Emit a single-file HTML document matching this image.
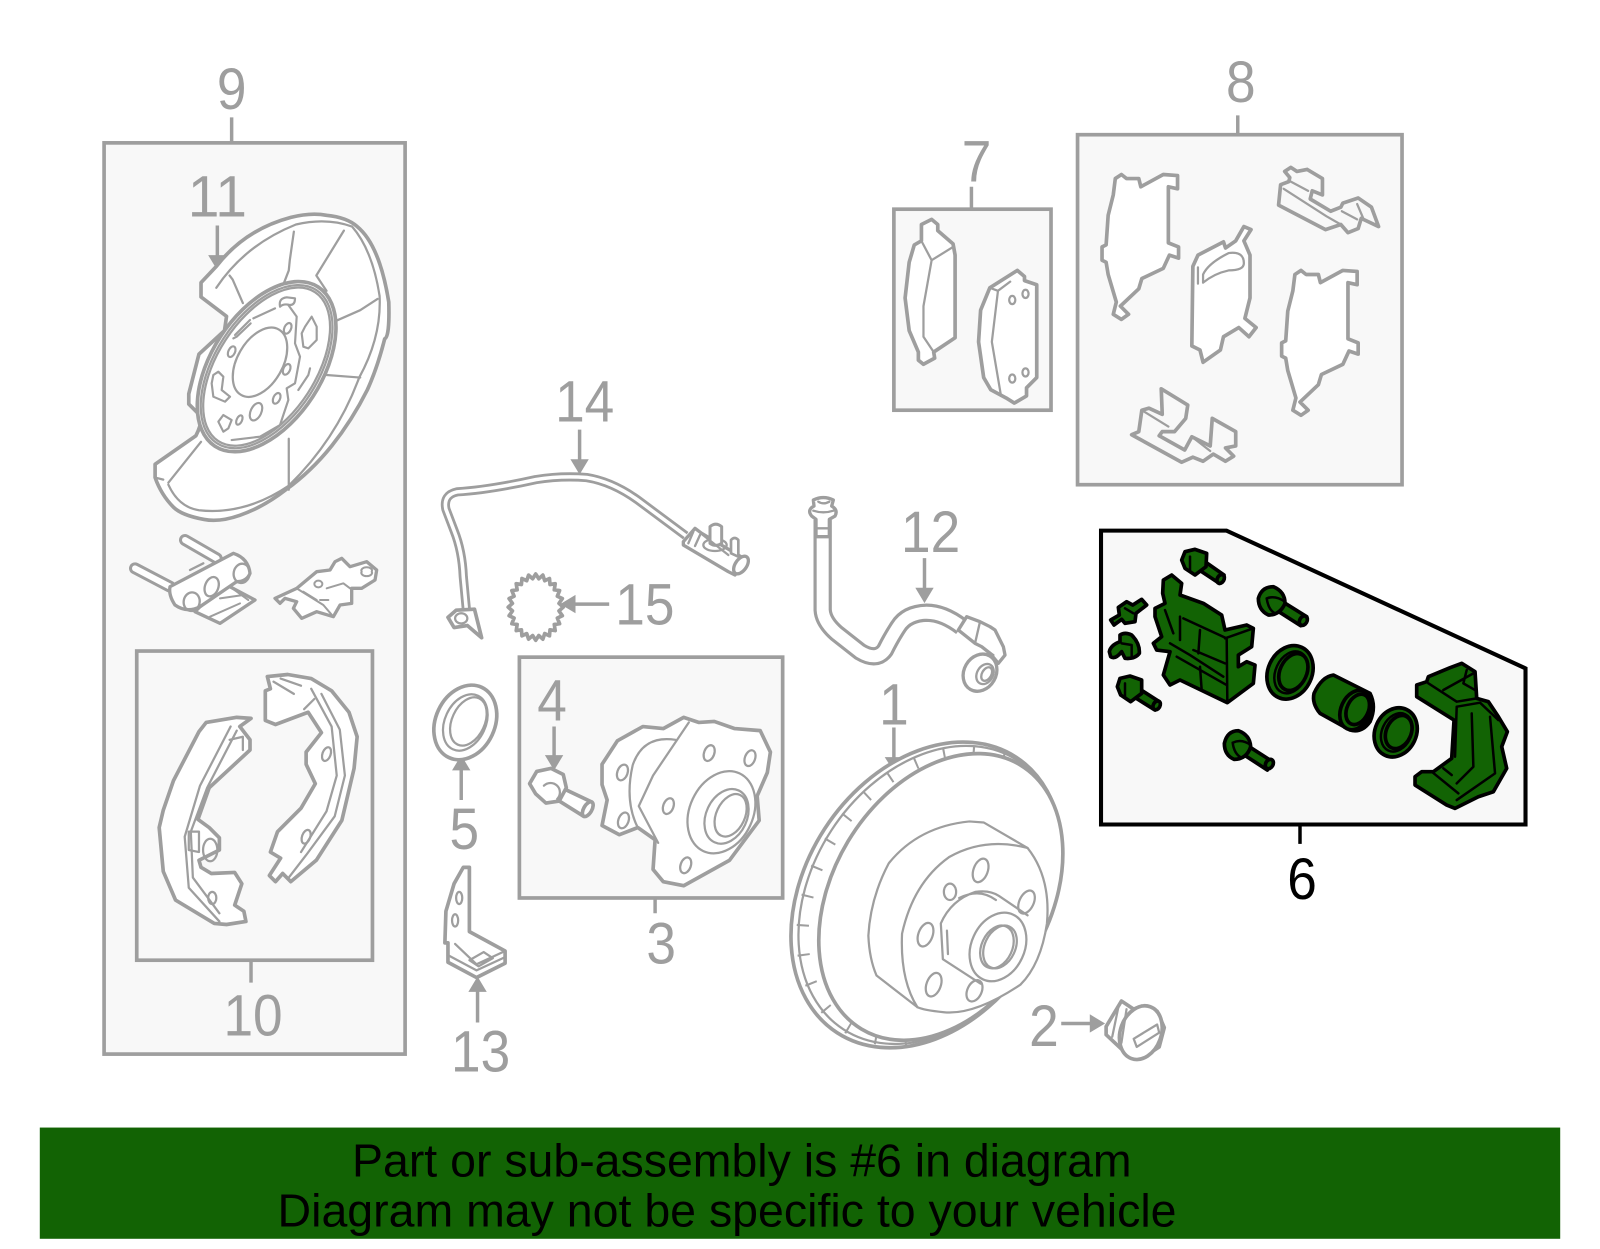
<!DOCTYPE html>
<html><head><meta charset="utf-8"><style>
html,body{margin:0;padding:0;background:#fff}svg{display:block}
text{font-family:"Liberation Sans",sans-serif}
.n{font-size:57px;fill:#9e9e9e;text-anchor:middle}
.b{fill:#f8f8f8;stroke:#9e9e9e;stroke-width:3.6}
.l{fill:none;stroke:#9e9e9e;stroke-width:3.4}
.a{fill:#9e9e9e;stroke:none}
.p{fill:#fff;stroke:#9e9e9e;stroke-width:3.6;stroke-linejoin:round;stroke-linecap:round}
.t{fill:none;stroke:#9e9e9e;stroke-width:2.2;stroke-linejoin:round;stroke-linecap:round}
.z{stroke-width:6.5}
.y{stroke-width:10}
.k *{stroke:#000;stroke-width:11;stroke-linejoin:round;stroke-linecap:round}
.g{fill:#126304}
.f{fill:none;stroke-width:7.5 !important}
</style></head><body>
<svg width="1600" height="1249" viewBox="0 0 1568 1224" xmlns="http://www.w3.org/2000/svg">
<rect width="1568" height="1224" fill="#fff"/>

<!-- boxes -->
<rect class="b" x="102" y="140" width="295" height="893"/>
<rect class="b" x="134" y="638" width="231" height="303"/>
<rect class="b" x="509" y="644" width="258" height="236"/>
<rect class="b" x="876" y="205" width="154" height="197"/>
<rect class="b" x="1056" y="132" width="318" height="343"/>
<polygon points="1079,520 1202,520 1495,655 1495,808 1079,808" fill="#f8f8f8" stroke="#000" stroke-width="4"/>

<!-- leaders -->
<path class="l" d="M227,115V140M246,941V963M642,880V895M952,183V205M1213,113V132"/>
<path d="M1274,808V827" fill="none" stroke="#000" stroke-width="3.4"/>

<!-- arrows -->
<path class="l" d="M213,221V252M568,421V452M906,547V577M543,712V742M452,752V784M468,968V1002M876,713V745M556,592H597M1040,1003H1070"/>
<path class="a" d="M204,250h18l-9,15zM559,450h18l-9,15zM897,576h18l-9,15zM534,740h18l-9,15zM443,755h18l-9,-15zM459,972h18l-9,-15zM867,742h18l-9,14zM564,583v18l-15,-9zM1068,994v18l15,-9z"/>

<!-- shield part 11 -->
<path class="p" d="M152,468L152,455L192,427Q198,415 197,408L185,396L185,386L195,347L220,324L222,310L197,291L197,277L212,261Q240,225 285,213Q305,208 320,211Q340,213 350,222Q372,240 381,296Q382,330 377,332Q370,360 360,382Q345,412 325,437Q305,462 280,480Q258,497 235,505Q215,512 200,509Q178,505 170,497Q158,485 152,468Z"/>
<path class="t" d="M212,282Q240,240 290,220Q320,213 345,222Q365,245 372,290Q374,330 352,370Q330,430 283,476Q240,505 195,500Q175,497 165,475M152,468L160,470"/>
<path class="t" d="M288,227L284,255L283,265L278,278M337,226L310,270L320,285M370,293L353,304L328,315M353,370L320,367.5M283,480V430M165,473L197,433M225,270L228,274L238,297"/>
<ellipse class="p" cx="261.3" cy="359.3" rx="54" ry="93" transform="rotate(33 261.3 359.3)" stroke-width="2.6"/>
<ellipse class="t" cx="261.3" cy="359.3" rx="50.5" ry="89.5" transform="rotate(33 261.3 359.3)"/>
<ellipse class="t" cx="261.3" cy="359.3" rx="48" ry="87" transform="rotate(33 261.3 359.3)"/>
<ellipse class="t" cx="254.8" cy="355" rx="22.2" ry="37" transform="rotate(30 254.8 355)" stroke-width="2.4"/>
<g transform="translate(176.4 254.8) scale(.3267)">
<path class="t z" d="M300,140Q295,115 320,112L345,115Q345,135 330,135Q310,130 300,140Z"/>
<path class="t z" d="M220,175L285,145M325,135L350,170L345,250L360,290L345,370L320,385L325,420L300,495L240,530L155,540"/>
<path class="t z" d="M375,200L395,170L410,200L410,240L385,265L370,260L365,220Z"/>
<path class="t z" d="M165,225L210,180M160,235L170,230L212,190"/>
<path class="t z" d="M100,345L115,335L130,350L125,390L150,410L135,425L100,410L95,370Z"/>
<path class="t z" d="M115,485L130,465L155,480L145,505L130,515Z"/>
<path class="t z" d="M355,390L385,345L390,325"/>
<ellipse class="t z" cx="155" cy="275" rx="10" ry="17" transform="rotate(25 155 275)"/>
<ellipse class="t z" cx="323" cy="205" rx="10" ry="17" transform="rotate(25 323 205)"/>
<ellipse class="t z" cx="320" cy="328" rx="10" ry="17" transform="rotate(25 320 328)"/>
<ellipse class="t z" cx="290" cy="415" rx="10" ry="17" transform="rotate(25 290 415)"/>
<ellipse class="t z" cx="228" cy="455" rx="16" ry="28" transform="rotate(25 228 455)"/>
<ellipse class="t z" cx="178" cy="480" rx="8" ry="15" transform="rotate(25 178 480)"/>
</g>

<!-- rear brackets -->
<g transform="translate(117.6 509.6) scale(.3267)">
<path d="M195,60L290,115" fill="none" stroke="#9e9e9e" stroke-width="36" stroke-linecap="round"/>
<path d="M195,60L290,115" fill="none" stroke="#fff" stroke-width="18" stroke-linecap="round"/>
<path d="M45,145L150,200" fill="none" stroke="#9e9e9e" stroke-width="36" stroke-linecap="round"/>
<path d="M45,145L150,200" fill="none" stroke="#fff" stroke-width="18" stroke-linecap="round"/>
<path class="p y" style="stroke-width:10" d="M240,260L320,195L405,240L300,310L225,275Z"/>
<path class="t y" style="stroke-width:6" d="M300,235L370,225M330,200L385,240M270,290L360,250"/>
<path class="p" style="stroke-width:10" d="M150,200L340,100Q385,115 390,160Q380,185 350,185L240,260Q200,280 165,255Q145,225 150,200Z"/>
<ellipse class="t" style="stroke-width:7" cx="365" cy="160" rx="24" ry="29" transform="rotate(10 365 160)"/>
<ellipse class="t" style="stroke-width:7" cx="275" cy="200" rx="20" ry="30" transform="rotate(20 275 200)"/>
<ellipse class="t" style="stroke-width:7" cx="215" cy="245" rx="24" ry="28" transform="rotate(10 215 245)"/>
<path class="t" style="stroke-width:7" d="M210,150L250,130"/>
<path class="p" style="stroke-width:10" d="M465,235L530,205L590,155L630,150L645,125L665,115L690,140L740,125L770,150L765,180L725,205L695,205L695,250L660,255L640,290L590,275L545,295L520,265L530,245L495,235L480,250Z"/>
<path class="t" style="stroke-width:6" d="M530,205L610,255L640,290M595,192m-12,0a12,10 0 1 0 24,0a12,10 0 1 0 -24,0M620,205L670,190L690,205M600,240L625,240M550,215L590,240M725,155a16,10 0 1 0 30,0a16,10 0 1 0 -30,0"/>
</g>

<!-- shoes -->
<path class="p" d="M246,704L232,703L202,708L195,717L170,765L160,794L156,811L160,854L172,882L210,905L222,906L241,903L239,893L230,887L237,866L230,855L207,856L197,850L195,843L215,833L215,821L205,811L194,803L205,772L245,735L245,725L235,712Z"/>
<path class="t" d="M226,712L196,770L181,820L185,870L215,903M232,716L203,772L187,815L189,860L215,895"/>
<ellipse class="t" cx="206" cy="833" rx="7" ry="11"/><ellipse class="t" cx="208" cy="880" rx="4" ry="6"/>
<path class="t" d="M185,815L195,815L195,835L185,833ZM225,725L238,722V735"/>
<path class="p" d="M262,663L282,661L305,665L325,677L342,698L350,722L347,753L335,804L310,843L285,864L277,856L270,864L264,858L275,841L265,835L272,815L295,792L309,768L300,749L300,737L315,718L302,698L270,710L260,706L260,677L265,675Z"/>
<path class="t" d="M315,680L333,715L338,760L328,800L300,838L283,860M305,675L325,712L330,760L320,795L295,835"/>
<path class="t" d="M275,665L295,672M268,668L288,680M298,695L308,685"/>
<ellipse class="t" cx="320" cy="739" rx="4" ry="7" transform="rotate(20 320 739)"/><ellipse class="t" cx="300" cy="820" rx="4" ry="7" transform="rotate(20 300 820)"/>

<!-- sensor 14 -->
<path d="M457,597L454,565Q453,540 445,520L437,499Q434,485 448,482Q480,480 525,470Q550,466 575,468Q600,472 625,490L672,525" fill="none" stroke="#9e9e9e" stroke-width="9" stroke-linejoin="round"/>
<path d="M457,597L454,565Q453,540 445,520L437,499Q434,485 448,482Q480,480 525,470Q550,466 575,468Q600,472 625,490L672,525" fill="none" stroke="#fff" stroke-width="3.5" stroke-linejoin="round"/>
<g transform="translate(646.8 499.8) scale(.3267)">
<path class="p" style="stroke-width:10" d="M70,95L105,55L125,70L260,150L225,195L205,185L70,105Z"/>
<ellipse class="p" style="stroke-width:10" cx="243" cy="165" rx="17" ry="30" transform="rotate(35 243 165)"/>
<ellipse class="t" style="stroke-width:7" cx="165" cy="105" rx="35" ry="18"/>
<path class="p" style="stroke-width:9" d="M150,50Q167,35 185,50V100Q167,112 150,100Z"/>
<path class="p" style="stroke-width:8" d="M213,130V90Q224,78 235,90V140Z"/>
<path class="t" style="stroke-width:7" d="M100,65L85,100M120,75L105,108M125,72L205,135"/>
</g>
<path class="p" d="M447,598L465,597L472,625L458,613L445,615L439,605Z"/><ellipse class="t" cx="452" cy="606" rx="6" ry="5"/>

<!-- gear 15 -->
<polygon class="p" stroke-width="3" points="525,562.5 528,567.2 532,563.6 533.8,569.1 538.5,566.9 539,572.8 544.1,572 543.2,578 548.4,578.75 546.2,584.3 551.1,586.6 547.8,591.3 552,595 547.8,598.7 551.1,603.4 546.2,605.7 548.4,611.25 543.2,612 544.1,618 539,617.2 538.5,623.1 533.8,620.9 532,626.4 528,622.8 525,627.5 522,622.8 518,626.4 516.2,620.9 511.5,623.1 511,617.2 505.9,618 506.8,612 501.6,611.25 503.8,605.7 498.9,603.4 502.2,598.7 498,595 502.2,591.3 498.9,586.6 503.8,584.3 501.6,578.75 506.8,578 505.9,572 511,572.8 511.5,566.9 516.2,569.1 518,563.6 522,567.2"/>

<!-- hose 12 -->
<g transform="translate(774.2 480.2) scale(.3267)">
<path d="M98,90V360Q100,395 140,430L210,485Q260,515 285,480Q305,440 325,410Q350,370 410,368Q460,368 515,410" fill="none" stroke="#9e9e9e" stroke-width="55"/>
<path d="M98,90V360Q100,395 140,430L210,485Q260,515 285,480Q305,440 325,410Q350,370 410,368Q460,368 515,410" fill="none" stroke="#fff" stroke-width="36"/>
<path class="p" style="stroke-width:10" d="M70,30Q100,15 130,30L125,48Q145,60 135,78L118,88V140H78V88L65,78Q50,60 72,48Z"/>
<path class="t" style="stroke-width:7" d="M78,115H118M85,35Q100,45 118,35M70,62Q100,72 130,62"/>
<ellipse class="p" style="stroke-width:10" cx="570" cy="548" rx="48" ry="58" transform="rotate(30 570 548)"/>
<ellipse class="t" style="stroke-width:7" cx="585" cy="552" rx="24" ry="32" transform="rotate(30 585 552)"/>
<ellipse class="t" style="stroke-width:7" cx="590" cy="552" rx="14" ry="22" transform="rotate(30 590 552)"/>
<path class="p" style="stroke-width:10" d="M505,420L530,380L570,395L600,410L615,420L640,470L645,495L625,520L600,490L575,470L555,460Z"/>
<path class="t" style="stroke-width:7" d="M570,395L555,460M575,470L610,495"/>
</g>

<!-- rotor 1 -->
<ellipse class="p" cx="908" cy="877" rx="119" ry="161" transform="rotate(33 908 877)"/>
<ellipse cx="911" cy="878" rx="111" ry="152" transform="rotate(33 911 878)" fill="none" stroke="#9e9e9e" stroke-width="12" stroke-dasharray="2 27"/>
<ellipse class="t" cx="912" cy="877" rx="116" ry="157" transform="rotate(33 912 877)" stroke-width="1.6"/>
<ellipse class="p" cx="922" cy="879" rx="106" ry="151" transform="rotate(31 922 879)" stroke-width="2.4"/>
<path class="p" stroke-width="2.4" d="M964,806L1007,831Q1030,860 1026,905Q1020,945 1000,965Q955,995 925,992Q905,990 899,987L859,956Q852,940 851,917Q853,880 871,846Q900,810 950,805Z" style="stroke-width:2.2"/>
<path class="t" d="M1007,831Q965,820 930,840Q895,865 884,915Q882,960 899,987"/>
<ellipse class="t" cx="961" cy="853" rx="7" ry="12" transform="rotate(20 961 853)"/>
<ellipse class="t" cx="931" cy="874" rx="6" ry="8"/>
<ellipse class="t" cx="1006" cy="884" rx="7" ry="12" transform="rotate(25 1006 884)"/>
<ellipse class="t" cx="907" cy="916" rx="7" ry="12" transform="rotate(20 907 916)"/>
<ellipse class="t" cx="915" cy="965" rx="7" ry="12" transform="rotate(20 915 965)"/>
<ellipse class="t" cx="955" cy="971" rx="7" ry="11" transform="rotate(25 955 971)"/>
<path class="t" d="M922,905Q932,882 956,874Q970,872 979,878L1007,897M922,905L924,940L961,964M928,912L929,935M940,880Q960,870 976,882"/>
<ellipse class="t" cx="978" cy="928" rx="26" ry="35" transform="rotate(25 978 928)"/>
<ellipse class="t" cx="977" cy="928" rx="15" ry="22" transform="rotate(25 977 928)"/>
<ellipse class="t" cx="980" cy="928" rx="15" ry="22" transform="rotate(25 980 928)"/>

<!-- plug 2 -->
<path class="p" d="M1084,1006L1099,981L1111,989L1119,986L1134,991L1141,1007L1136,1026L1119,1037L1099,1028L1084,1014Z"/>
<ellipse class="p" cx="1118" cy="1012" rx="20" ry="27" transform="rotate(20 1118 1012)" stroke-width="3"/>
<path class="t" d="M1111,1018L1134,1004L1136,1012L1114,1026ZM1096,987L1090,1016M1104,989L1099,1022"/>

<!-- seal 5 -->
<ellipse class="p" cx="456" cy="708" rx="29" ry="38" transform="rotate(25 456 708)"/>
<ellipse class="t" cx="456" cy="708" rx="20" ry="29" transform="rotate(25 456 708)" stroke-width="2.4"/>
<ellipse class="t" cx="459" cy="707" rx="16" ry="25" transform="rotate(25 459 707)" stroke-width="2.4"/>

<!-- bracket 13 -->
<path class="p" d="M454,850L460,850L460,913L495,932L495,944L467,958L439,943L439,924L436,924L437,893L445,866Z"/>
<path class="t" d="M446,925L467,945L495,932M439,936L467,951L495,938M460,941L474,933L483,939L469,947Z"/>
<ellipse class="t" cx="450" cy="880" rx="3" ry="6"/><ellipse class="t" cx="446" cy="902" rx="3" ry="6"/>

<!-- hub 3 -->
<path class="p" d="M590,749L605,726L630,712L650,714L670,703L685,708L700,707L720,714L745,716L755,737L752,757L742,780L744,804L715,843L670,868L650,864L640,852L642,823L625,811L607,818L590,809L595,784L590,769Z"/>
<path class="t" d="M675,708L640,760L626,790L645,826M662,725Q630,720 620,750Q612,785 625,811"/>
<ellipse class="t" cx="707" cy="796" rx="31" ry="42" transform="rotate(25 707 796)"/>
<ellipse class="t" cx="712" cy="800" rx="20" ry="28" transform="rotate(25 712 800)"/>
<ellipse class="t" cx="716" cy="799" rx="14" ry="22" transform="rotate(25 716 799)"/>
<ellipse class="t" cx="695" cy="738" rx="5" ry="8" transform="rotate(20 695 738)"/><ellipse class="t" cx="735" cy="743" rx="5" ry="8" transform="rotate(20 735 743)"/>
<ellipse class="t" cx="655" cy="790" rx="5" ry="8" transform="rotate(20 655 790)"/><ellipse class="t" cx="672" cy="848" rx="5" ry="8" transform="rotate(20 672 848)"/>
<ellipse class="t" cx="610" cy="757" rx="5" ry="8" transform="rotate(20 610 757)"/><ellipse class="t" cx="611" cy="804" rx="5" ry="8" transform="rotate(20 611 804)"/>

<!-- bolt 4 -->
<path class="p" d="M542,768L580,786L572,800L537,778Z"/>
<ellipse class="p" cx="576" cy="793" rx="4" ry="8" transform="rotate(30 576 793)"/>
<path class="p" d="M526,756L540,753L552,759L555,772L548,785L535,787L525,778L519,768Z"/>
<path class="t" d="M533,770A9,9 0 1 1 546,783"/>

<!-- pads 7 -->
<path class="p" d="M913,215L919,220L919,226L934,239L936,250L936,331L915,345L916,351L905,357L900,353L900,345L891,324L887,292L891,257L896,240L903,236L903,220Z"/>
<path class="t" d="M904,238L913,255L934,242M913,255L905,300L905,330L915,345"/>
<path class="p" d="M997,265L1004,271L1004,275L1016,279L1016,370L1006,380L1006,388L994,395L986,390L971,382L964,370L959,335L961,304L970,282Z"/>
<path class="t" d="M970,282L978,285L990,276M978,285L972,335L981,388"/>
<g class="t"><ellipse cx="992" cy="294" rx="3" ry="4"/><ellipse cx="1005" cy="288" rx="3" ry="4"/><ellipse cx="992" cy="371" rx="3" ry="4"/><ellipse cx="1005" cy="365" rx="3" ry="4"/></g>

<!-- shims 8 -->
<path class="p" d="M1099,171L1104,175L1116,175L1118,183L1140,171L1154,172L1154,185L1145,183L1145,238L1155,242L1155,253L1146,250L1140,263L1119,273L1116,283L1098,300L1106,308L1099,313L1091,308L1094,296L1086,269L1084,257L1080,255L1080,242L1084,240L1086,211L1091,191L1093,175Z"/>
<path class="p" transform="translate(176 94)" d="M1099,171L1104,175L1116,175L1118,183L1140,171L1154,172L1154,185L1145,183L1145,238L1155,242L1155,253L1146,250L1140,263L1119,273L1116,283L1098,300L1106,308L1099,313L1091,308L1094,296L1086,269L1084,257L1080,255L1080,242L1084,240L1086,211L1091,191L1093,175Z"/>
<path class="p" d="M1219,222L1226,225L1219,236L1225,250L1225,292L1220,312L1231,321L1224,330L1214,321L1199,330L1196,343L1179,355L1176,343L1168,339L1169,261L1174,250L1199,237L1201,243L1211,236Z"/>
<path class="t" d="M1179,269Q1184,258 1204,248Q1219,246 1219,258Q1219,265 1204,265Q1190,268 1179,277ZM1174,262L1174,278"/>
<path class="p" style="fill:none" d="M1259,168L1265,164L1271,168L1281,166L1296,175L1296,191L1286,187L1284,195L1304,207L1314,203L1316,199L1331,194L1344,203L1351,222L1334,214L1331,224L1321,228L1314,220L1299,225L1253,201L1255,181L1263,178L1264,174Z"/>
<path class="t" d="M1258,185L1300,212L1314,220M1265,178L1282,187M1330,200L1336,214M1315,207L1330,215"/>
<path class="p" style="fill:none" d="M1138,381L1164,397L1162,410L1151,423L1139,423L1136,427L1161,441L1168,428L1186,437L1188,410L1211,423L1211,437L1201,439L1209,447L1201,452L1189,445L1179,452L1169,448L1158,453L1109,426L1116,423L1119,402L1126,400L1139,406Z"/>
<path class="t" d="M1119,402L1145,418M1168,428L1186,442"/>

<!-- caliper kit 6 -->
<g class="k" transform="translate(1068.2 509.6) scale(.3267)">
<path class="g" d="M220,180L245,165L275,190L270,225L340,250L395,285L405,330L470,315L490,325L485,380L445,405L445,440L470,425L495,435L490,490L412,548L270,480L240,495L220,465L240,395L200,390L190,370L215,350L195,290L195,265L225,250L218,220Z"/>
<path class="f" d="M280,295L410,355L412,548M270,290L270,360M330,330L325,400M240,370L300,405L400,470M260,410L410,495M330,440L335,510M310,390L405,430M225,270L250,340M405,355L490,325"/>
<path class="g" d="M335,118L402,165L388,190L320,145Z"/><ellipse class="g" cx="392" cy="177" rx="10" ry="14" transform="rotate(30 392 177)"/>
<path class="g" d="M285,95L315,88L350,100L348,140L315,165L285,145L275,120Z"/><path class="f" d="M300,110L300,150"/>
<path class="g" d="M570,240L650,290L632,317L555,268Z"/><ellipse class="g" cx="640" cy="302" rx="11" ry="15" transform="rotate(30 640 302)"/>
<path class="g" d="M505,235Q515,200 550,200Q585,215 585,250Q570,285 535,285Q505,270 505,235Z"/><path class="f" d="M530,235Q535,270 555,280M530,235Q555,225 585,245"/>
<path class="g" d="M130,495L208,545L195,570L115,520Z"/><ellipse class="g" cx="200" cy="556" rx="10" ry="14" transform="rotate(30 200 556)"/>
<path class="g" d="M90,475L120,468L155,480L155,520L122,545L92,525L82,500Z"/><path class="f" d="M105,490L105,530"/>
<path class="g" d="M470,675L548,725L532,750L455,700Z"/><ellipse class="g" cx="538" cy="732" rx="11" ry="15" transform="rotate(30 538 732)"/>
<path class="g" d="M403,670Q412,632 445,632Q480,645 482,680Q470,718 432,718Q403,705 403,670Z"/><path class="f" d="M428,668Q432,700 452,712M428,668Q455,655 482,675"/>
<path class="g" d="M58,395Q62,375 90,365V345Q105,335 125,345Q150,370 148,400Q135,418 105,415L95,395Q75,420 62,410Z"/><path class="f" d="M95,370L125,375L125,410"/>
<path class="g" d="M62,300L88,285L85,262L110,245L128,255L155,238L170,255L138,280L135,305L105,310L95,298L72,315Z"/><path class="f" d="M105,265L130,280"/>
<ellipse class="g" cx="600" cy="457" rx="66" ry="83" transform="rotate(25 600 457)"/>
<ellipse class="f" cx="603" cy="457" rx="46" ry="66" transform="rotate(25 603 457)"/>
<ellipse class="g" cx="610" cy="456" rx="40" ry="58" transform="rotate(25 610 456)"/>
<path class="g" d="M730,465L840,520Q860,560 840,605Q815,640 780,630L690,580Q665,550 672,520Q695,470 730,465Z"/>
<ellipse class="g" cx="797" cy="570" rx="44" ry="62" transform="rotate(25 797 570)"/>
<ellipse class="g" cx="803" cy="568" rx="32" ry="48" transform="rotate(25 803 568)"/>
<ellipse class="g" cx="917" cy="637" rx="62" ry="76" transform="rotate(25 917 637)"/>
<ellipse class="f" cx="920" cy="637" rx="44" ry="60" transform="rotate(25 920 637)"/>
<ellipse class="g" cx="926" cy="636" rx="37" ry="52" transform="rotate(25 926 636)"/>
<path class="g" d="M980,495L1010,485L1015,470L1080,443L1115,430L1155,455L1160,535L1195,545L1225,590L1252,635L1235,680L1250,745L1210,815L1165,830L1095,865L1070,855L975,795L975,770L995,755L1030,755L1085,715L1092,600L980,530Z"/>
<path class="f" d="M1015,490L1100,545L1160,535M1100,560L1095,710M1145,580L1150,740L1100,790M1200,590L1215,760L1100,840M1025,755L1105,820M1130,450L1120,490L1155,510M1060,510L1150,460M1100,560L1170,548L1225,600M1060,745L1085,765"/>
</g>

<!-- labels -->
<text class="n" x="227" y="107" textLength="29" lengthAdjust="spacingAndGlyphs">9</text>
<text class="n" x="213" y="212" textLength="58" lengthAdjust="spacingAndGlyphs">11</text>
<text class="n" x="573" y="413" textLength="58" lengthAdjust="spacingAndGlyphs">14</text>
<text class="n" x="632" y="612" textLength="58" lengthAdjust="spacingAndGlyphs">15</text>
<text class="n" x="912" y="541" textLength="58" lengthAdjust="spacingAndGlyphs">12</text>
<text class="n" x="957" y="178" textLength="29" lengthAdjust="spacingAndGlyphs">7</text>
<text class="n" x="1216" y="100" textLength="29" lengthAdjust="spacingAndGlyphs">8</text>
<text class="n" x="541" y="706" textLength="29" lengthAdjust="spacingAndGlyphs">4</text>
<text class="n" x="455" y="832" textLength="29" lengthAdjust="spacingAndGlyphs">5</text>
<text class="n" x="248" y="1015" textLength="58" lengthAdjust="spacingAndGlyphs">10</text>
<text class="n" x="648" y="944" textLength="29" lengthAdjust="spacingAndGlyphs">3</text>
<text class="n" x="471" y="1050" textLength="58" lengthAdjust="spacingAndGlyphs">13</text>
<text class="n" x="876" y="710" textLength="29" lengthAdjust="spacingAndGlyphs">1</text>
<text class="n" x="1023" y="1025" textLength="29" lengthAdjust="spacingAndGlyphs">2</text>
<text class="n" x="1276" y="881" textLength="29" lengthAdjust="spacingAndGlyphs" style="fill:#000">6</text>

<!-- band -->
<rect x="39" y="1105" width="1490" height="109" fill="#126304"/>
<text x="345" y="1153" font-size="45" fill="#000" textLength="764" lengthAdjust="spacingAndGlyphs">Part or sub-assembly is #6 in diagram</text>
<text x="272" y="1202" font-size="45" fill="#000" textLength="881" lengthAdjust="spacingAndGlyphs">Diagram may not be specific to your vehicle</text>
</svg>
</body></html>
